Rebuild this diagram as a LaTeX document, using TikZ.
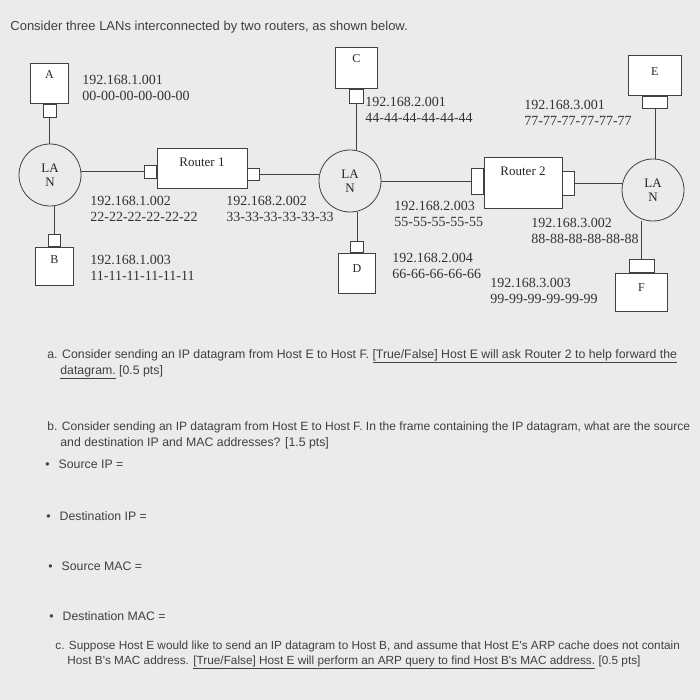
\documentclass[tikz,border=0pt]{standalone}
\usepackage{fontspec}
\setmainfont{Liberation Serif}
\newfontfamily\qfont{Liberation Sans}
\begin{document}
\begin{tikzpicture}[x=1pt,y=-1pt,
  line width=0.8pt, draw=black!75,
  host/.style={draw=black!75,fill=white,minimum width=#1,minimum height=#1,inner sep=0pt},
  hl/.style={font=\fontsize{12}{13}\selectfont,text=black!85},
  port/.style={draw=black!75,fill=white,inner sep=0pt},
  lan/.style={circle,draw=black!75,minimum size=62pt,inner sep=0pt,align=center,font=\fontsize{13}{14}\selectfont,text=black!85},
  lbl/.style={anchor=west,align=left,inner sep=0pt,text=black!80,font=\fontsize{14}{16.5}\selectfont},
  q/.style={anchor=west,inner sep=0pt,text=black!75,font=\qfont\fontsize{12.3}{14}\selectfont}]
\fill[black!8] (0,0) rectangle (700,700);
\useasboundingbox (0,0) rectangle (700,700);
\node[q,font=\qfont\fontsize{13}{14}\selectfont] (title) at (10,27) {Consider three LANs interconnected by two routers, as shown below.};
% LANs
\node[lan] (lan1) at (50,175) {LA\\N};
\node[lan] (lan2) at (350,181) {LA\\N};
\node[lan] (lan3) at (653,190) {LA\\N};
% hosts
\node[host=38pt,minimum height=40pt,anchor=north west] (A) at (30,63) {};
\node[hl,anchor=north] at (A.north) [yshift=-4pt] {A};
\node[port,minimum width=13pt,minimum height=13pt,anchor=north] (pA) at (A.south) {};
\node[host=38pt,anchor=north west] (B) at (35,247) {};
\node[hl,anchor=north] at (B.north) [yshift=-5pt] {B};
\node[port,minimum width=12pt,minimum height=12pt,anchor=south] (pB) at (B.north) {};
\node[host=42pt,minimum height=41pt,anchor=north west] (C) at (335,47) {};
\node[hl,anchor=north] at (C.north) [yshift=-4pt] {C};
\node[port,minimum width=14pt,minimum height=14pt,anchor=north] (pC) at (C.south) {};
\node[host=37pt,minimum height=40pt,anchor=north west] (D) at (338,253) {};
\node[hl,anchor=north] at (D.north) [yshift=-8pt] {D};
\node[port,minimum width=13pt,minimum height=11pt,anchor=south] (pD) at (D.north) {};
\node[host=53pt,minimum height=40pt,anchor=north west] (E) at (628,55) {};
\node[hl,anchor=north] at (E.north) [yshift=-9pt] {E};
\node[port,minimum width=25pt,minimum height=12pt,anchor=north] (pE) at (E.south) {};
\node[host=52pt,minimum height=38pt,anchor=north west] (F) at (615,273) {};
\node[hl,anchor=north] at (F.north) [yshift=-7pt] {F};
\node[port,minimum width=25pt,minimum height=13pt,anchor=south] (pF) at (F.north) {};
% routers
\node[draw=black!75,fill=white,minimum width=90pt,minimum height=40pt,anchor=north west] (R1) at (157,148) {};
\node[hl,font=\fontsize{13}{14}\selectfont] at (202,162) {Router 1};
\node[port,minimum width=12pt,minimum height=13pt,anchor=east] (R1l) at (157,171.5) {};
\node[port,minimum width=12pt,minimum height=12pt,anchor=west] (R1r) at (247,174) {};
\node[draw=black!75,fill=white,minimum width=78pt,minimum height=51pt,anchor=north west] (R2) at (484,157) {};
\node[hl,font=\fontsize{13}{14}\selectfont] at (523,171) {Router 2};
\node[port,minimum width=12pt,minimum height=26pt,anchor=east] (R2l) at (484,181) {};
\node[port,minimum width=12pt,minimum height=24pt,anchor=west] (R2r) at (562,183) {};
% connectors
\draw (pA.south) -- (pA.south |- lan1.north);
\draw (pB.north |- lan1.south) -- (pB.north);
\draw (pC.south) -- (pC.south |- lan2.north);
\draw (pD.north |- lan2.south) -- (pD.north);
\draw (pE.south) -- (pE.south |- lan3.north);
\draw (pF.north |- lan3.south) -- (pF.north);
\draw (lan1.east |- R1l) -- (R1l.west);
\draw (R1r.east) -- (R1r.east -| lan2.west);
\draw (lan2.east |- R2l) -- (R2l.west);
\draw (R2r.east) -- (R2r.east -| lan3.west);
% labels
\node[lbl] (lA) at (82,88) {192.168.1.001\\00-00-00-00-00-00};
\node[lbl] (lR1a) at (90,209) {192.168.1.002\\22-22-22-22-22-22};
\node[lbl] (lR1b) at (226,209) {192.168.2.002\\33-33-33-33-33-33};
\node[lbl] (lB) at (90,268) {192.168.1.003\\11-11-11-11-11-11};
\node[lbl] (lC) at (365,110) {192.168.2.001\\44-44-44-44-44-44};
\node[lbl] (lE) at (524,113) {192.168.3.001\\77-77-77-77-77-77};
\node[lbl] (lR2a) at (394,214) {192.168.2.003\\55-55-55-55-55};
\node[lbl] (lR2b) at (531,231) {192.168.3.002\\88-88-88-88-88-88};
\node[lbl] (lD) at (392,266) {192.168.2.004\\66-66-66-66-66};
\node[lbl] (lF) at (490,291) {192.168.3.003\\99-99-99-99-99-99};
% questions
\node[q] (qa1) at (47,356) {a. Consider sending an IP datagram from Host E to Host F. \underline{[True/False] Host E will ask Router 2 to help forward the}};
\node[q] (qa2) at (60,372) {\underline{datagram.} [0.5 pts]};
\node[q,font=\qfont\fontsize{12.05}{14}\selectfont] (qb1) at (47,427) {b. Consider sending an IP datagram from Host E to Host F. In the frame containing the IP datagram, what are the source};
\node[q] (qb2) at (60,443) {and destination IP and MAC addresses? [1.5 pts]};
\node[q] (b1) at (45,464) {\textbullet\hspace{9pt}Source IP =};
\node[q] (b2) at (46,516) {\textbullet\hspace{9pt}Destination IP =};
\node[q] (b3) at (48,566) {\textbullet\hspace{9pt}Source MAC =};
\node[q] (b4) at (49,616) {\textbullet\hspace{9pt}Destination MAC =};
\node[q,font=\qfont\fontsize{11.8}{14}\selectfont] (qc1) at (55,646) {c. Suppose Host E would like to send an IP datagram to Host B, and assume that Host E's ARP cache does not contain};
\node[q,font=\qfont\fontsize{11.8}{14}\selectfont] (qc2) at (67,662) {Host B's MAC address. \underline{[True/False] Host E will perform an ARP query to find Host B's MAC address.} [0.5 pts]};
\end{tikzpicture}
\end{document}
